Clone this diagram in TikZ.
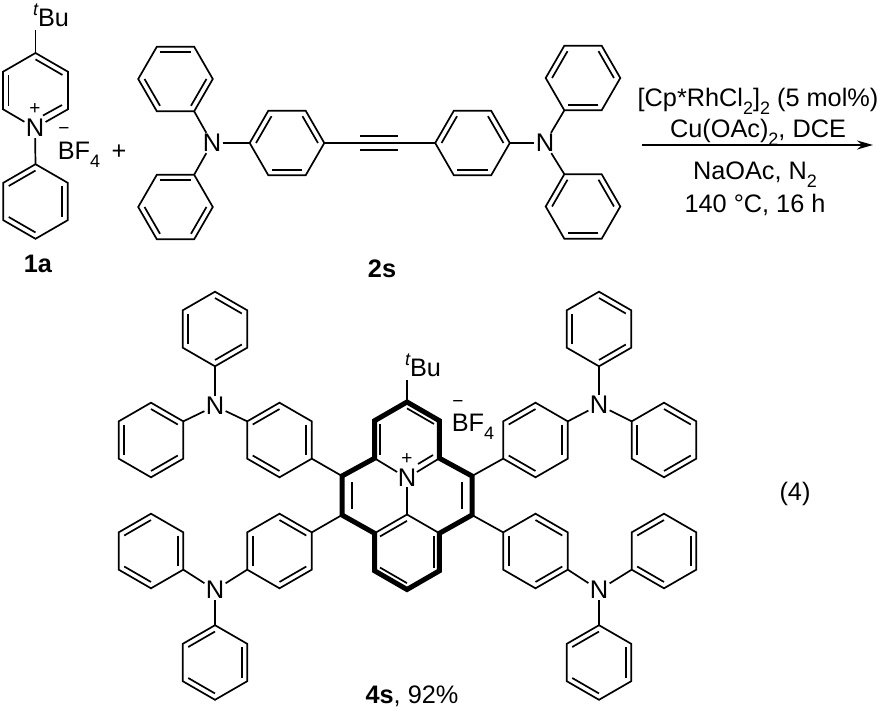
\documentclass[tikz,border=0pt]{standalone}
\usepackage{fontspec}
\setmainfont{Liberation Sans}
\usetikzlibrary{calc,arrows.meta}
\newcommand{\subsc}[1]{\raisebox{-0.32em}{\fontsize{18}{18}\selectfont #1}}
\newcommand{\tbu}{\raisebox{0.42em}{\fontsize{18}{18}\selectfont\itshape t}Bu}
\newcommand{\ringpts}[5]{%
  \coordinate (#1) at (#2,#3);
  \foreach \k in {0,...,5} {
    \coordinate (#1-\k) at ({#2+#5*cos(#4+60*\k)},{#3+#5*sin(#4+60*\k)});
  }%
}
\newcommand{\inner}[2]{%
  \foreach \e in {#2} {
    \pgfmathtruncatemacro\f{mod(\e+1,6)}
    \draw[bond] ($(#1)!0.83!(#1-\e)$) -- ($(#1)!0.83!(#1-\f)$);
  }%
}
% name, cx, cy, start angle, edges carrying an inner line
\newcommand{\ring}[5]{%
  \ringpts{#1}{#2}{#3}{#4}{37.3}
  \draw[bond] (#1-0) -- (#1-1) -- (#1-2) -- (#1-3) -- (#1-4) -- (#1-5) -- cycle;
  \inner{#1}{#5}%
}
\tikzset{
  bond/.style={line width=1.7pt,line join=miter,line cap=butt},
  heavy/.style={line width=5pt,line join=miter,line cap=butt},
  atom/.style={inner sep=1.2pt,font=\fontsize{25.5}{25.5}\selectfont},
  lab/.style={inner sep=0pt,font=\fontsize{25.3}{25.3}\selectfont,anchor=base},
  boldlab/.style={lab,font=\fontsize{25.3}{25.3}\selectfont\bfseries},
  chg/.style={inner sep=0pt,font=\fontsize{19}{19}\selectfont}
}
\begin{document}
\begin{tikzpicture}[x=1pt,y=-1pt]
\useasboundingbox (0,0) rectangle (884,710);
% ---------- 1a
\ringpts{pa}{35.5}{90.5}{-90}{37.5}
\node[atom] (n1) at (35,128) {N};
\node[lab] (tbua) at (51,26) {\tbu};
\draw[bond] (pa-0) -- (35.5,30) coordinate (tbuaend);
\draw[bond] (n1) -- (pa-4) -- (pa-5) -- (pa-0) -- (pa-1) -- (pa-2) -- (n1);
\inner{pa}{0,4}
\coordinate (ia1) at (62,105); \coordinate (ia2) at (43,115.5);
\draw[bond] (ia1) -- (ia2);
\ring{pb}{35.5}{201.5}{-90}{1,3,5}
\draw[bond] (n1) -- (pb-0);
\node[chg] (plusa) at (35,109) {+};
\node[chg] (minusa) at (64,131) {−};
\node[lab] (bfa) at (79,159) {BF\subsc{4}};
\node[lab] (pl1) at (119,159) {+};
\node[boldlab] (l1a) at (38,272) {1a};
% ---------- 2s
\node[atom] (n2a) at (212,143) {N};
\node[atom] (n2b) at (545,143) {N};
\ring{a}{175.5}{79}{-120}{0,2,4}
\ring{b}{175.5}{207}{-120}{0,2,4}
\ring{c}{287}{143}{-120}{1,3,5}
\ring{d}{472.5}{143}{-120}{1,3,5}
\ring{e}{583}{78}{-120}{1,3,5}
\ring{f}{583}{206.5}{-120}{1,3,5}
\draw[bond] (n2a) -- (a-3);
\draw[bond] (n2a) -- (b-1);
\draw[bond] (n2a) -- (c-5);
\draw[bond] (n2b) -- (d-2);
\draw[bond] (n2b) -- (e-4);
\draw[bond] (n2b) -- (f-0);
\draw[bond] (c-2) -- (d-5);
\coordinate (t1) at (360,136); \coordinate (t2) at (398,136);
\coordinate (t3) at (360,150); \coordinate (t4) at (398,150);
\draw[bond] (t1) -- (t2);
\draw[bond] (t3) -- (t4);
\node[boldlab] (l2s) at (382,277) {2s};
% ---------- arrow and conditions
\coordinate (ar1) at (642,145); \coordinate (ar2) at (873,145);
\draw[bond,-{Stealth[length=16pt,width=9pt]}] (ar1) -- (ar2);
\node[lab] (c1) at (758,106) {[Cp*RhCl\subsc{2}]\subsc{2} (5 mol\%)};
\node[lab] (c2) at (758,137) {Cu(OAc)\subsc{2}, DCE};
\node[lab] (c3) at (755,179) {NaOAc, N\subsc{2}};
\node[lab] (c4) at (755,212) {140 °C, 16 h};
% ---------- 4s core
\ringpts{p}{407}{439.5}{-90}{37.5}
\ringpts{q}{407}{552}{-90}{37.5}
\coordinate (lu) at (342,476); \coordinate (ll) at (342,515);
\coordinate (ru) at (472,476); \coordinate (rl) at (472,515);
\node[atom,inner sep=0.5pt] (n4) at (407,478) {N};
\draw[heavy] (p-0) -- (p-1) -- (p-2) -- (ru) -- (rl) -- (q-1) -- (q-2) -- (q-3)
  -- (q-4) -- (q-5) -- (ll) -- (lu) -- (p-4) -- (p-5) -- cycle;
\draw[bond] (n4) -- (p-2);
\draw[bond] (n4) -- (p-4);
\draw[bond] (n4) -- (q-0);
\draw[bond] (q-0) -- (q-1);
\draw[bond] (q-0) -- (q-5);
\inner{p}{0,4}
\coordinate (ip1) at (433,455); \coordinate (ip2) at (418,464);
\draw[bond] (ip1) -- (ip2);
\inner{q}{1,3,5}
\coordinate (ilu) at (352,482); \coordinate (ill) at (352,509);
\coordinate (iru) at (462,482); \coordinate (irl) at (462,509);
\draw[bond] (ilu) -- (ill);
\draw[bond] (iru) -- (irl);
\draw[bond] (p-0) -- (407,380) coordinate (tbucend);
\node[lab] (tbuc) at (423,376) {\tbu};
\node[chg] (plusc) at (407,459) {+};
\node[chg] (minusc) at (458,404) {−};
\node[lab] (bfc) at (473,431) {BF\subsc{4}};
% ---------- 4s upper left
\node[atom] (nul) at (215,406) {N};
\ring{ula}{279.5}{440}{-90}{1,3,5}
\ring{ult}{215}{329}{-90}{0,2,4}
\ring{ulp}{151}{440}{-90}{0,2,4}
\draw[bond] (nul) -- (ult-3);
\draw[bond] (nul) -- (ulp-1);
\draw[bond] (nul) -- (ula-5);
\draw[bond] (ula-2) -- (lu);
% ---------- 4s lower left
\node[atom] (nll) at (215,590) {N};
\ring{lla}{279.5}{551}{-90}{0,2,4}
\ring{llb}{215}{662.5}{-90}{1,3,5}
\ring{llp}{151}{551}{-90}{1,3,5}
\draw[bond] (nll) -- (llb-0);
\draw[bond] (nll) -- (llp-2);
\draw[bond] (nll) -- (lla-4);
\draw[bond] (lla-1) -- (ll);
% ---------- 4s upper right
\node[atom] (nur) at (599,405) {N};
\ring{ura}{535.5}{440}{-90}{1,3,5}
\ring{urt}{599}{329}{-90}{0,2,4}
\ring{urp}{664}{440}{-90}{0,2,4}
\draw[bond] (nur) -- (urt-3);
\draw[bond] (nur) -- (urp-5);
\draw[bond] (nur) -- (ura-1);
\draw[bond] (ura-4) -- (ru);
% ---------- 4s lower right
\node[atom] (nlr) at (599,590) {N};
\ring{lra}{535.5}{551}{-90}{0,2,4}
\ring{lrb}{599}{662.5}{-90}{1,3,5}
\ring{lrp}{664}{551}{-90}{1,3,5}
\draw[bond] (nlr) -- (lrb-0);
\draw[bond] (nlr) -- (lrp-4);
\draw[bond] (nlr) -- (lra-2);
\draw[bond] (lra-5) -- (rl);
% ---------- labels
\node[lab] (l4s) at (412,703) {\textbf{4s}, 92\%};
\node[lab] (eq) at (795,500) {(4)};
\end{tikzpicture}
\end{document}
